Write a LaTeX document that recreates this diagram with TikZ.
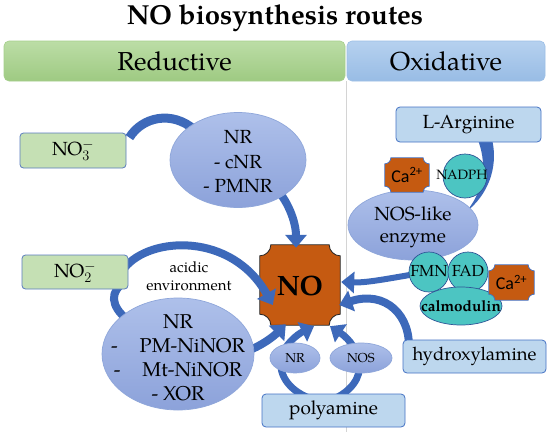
\documentclass[tikz,border=0pt]{standalone}
\usepackage{fontspec}
\setmainfont{TeX Gyre Pagella}
\newfontfamily\cafont{Carlito}
\usetikzlibrary{arrows.meta,shapes.geometric,calc}
\pgfdeclarelayer{bg}\pgfdeclarelayer{mid}\pgfsetlayers{bg,mid,main}
\definecolor{arrowblue}{HTML}{3D69BA}
\definecolor{elltop}{HTML}{AEC0EA}
\definecolor{ellbot}{HTML}{8CA2DA}
\definecolor{ellline}{HTML}{8EA6DA}
\definecolor{gfill}{HTML}{C5E0B4}
\definecolor{gboxline}{HTML}{5A7CBE}
\definecolor{bfill}{HTML}{BDD7EE}
\definecolor{bboxline}{HTML}{4472C4}
\definecolor{gtop}{HTML}{BCDDA6}
\definecolor{gbot}{HTML}{9ECA82}
\definecolor{gline}{HTML}{A6CF8C}
\definecolor{btop}{HTML}{B6D1EF}
\definecolor{bbot}{HTML}{98BCE5}
\definecolor{bline}{HTML}{9CBFE6}
\definecolor{tealc}{HTML}{4CC5C2}
\definecolor{tealline}{HTML}{2F5597}
\definecolor{orangec}{HTML}{C55A11}
\definecolor{divc}{HTML}{D4D4D4}
\newcommand\labfont{\fontsize{19}{24.5}\selectfont}
\newcommand\plaquepath[2]{%
 let \p1=(#1.north west), \p2=(#1.south east) in
 (\x1,\y1-#2) .. controls (\x1+0.552*#2,\y1-#2) and (\x1+#2,\y1-0.552*#2) .. (\x1+#2,\y1)
 -- (\x2-#2,\y1) .. controls (\x2-#2,\y1-0.552*#2) and (\x2-0.552*#2,\y1-#2) .. (\x2,\y1-#2)
 -- (\x2,\y2+#2) .. controls (\x2-0.552*#2,\y2+#2) and (\x2-#2,\y2+0.552*#2) .. (\x2-#2,\y2)
 -- (\x1+#2,\y2) .. controls (\x1+#2,\y2+0.552*#2) and (\x1+0.552*#2,\y2+#2) .. (\x1,\y2+#2) -- cycle}
\begin{document}
\begin{tikzpicture}[x=1pt,y=-1pt,
 ell/.style={ellipse, draw=ellline, line width=0.7pt, top color=elltop, bottom color=ellbot, inner sep=0pt},
 txt/.style={inner sep=0pt, align=center, font=\labfont},
 gbox/.style={rectangle, rounded corners=3.5pt, fill=gfill, draw=gboxline, line width=0.8pt, minimum width=106pt, minimum height=35pt, inner sep=0pt, font=\labfont},
 bbox/.style={rectangle, rounded corners=4pt, fill=bfill, draw=bboxline, line width=0.8pt, minimum height=34pt, inner sep=0pt, font=\labfont},
 bar/.style={rectangle, rounded corners=5pt, minimum height=40pt, inner sep=0pt, line width=0.6pt, font=\fontsize{26}{30}\selectfont},
 teal/.style={circle, fill=tealc, draw=tealline, line width=0.7pt, minimum size=40pt, inner sep=0pt},
 band/.style={draw=arrowblue, line width=8pt},
 bandtip/.style={band, -{Triangle[width=21pt,length=13pt]}},
 plaquebox/.style={rectangle, inner sep=0pt, draw=none},
 caplaque/.style={fill=orangec, draw=bboxline, line width=0.7pt},
 catext/.style={inner sep=0pt, font=\cafont\fontsize{18}{20}\selectfont},
]
\useasboundingbox (0,0) rectangle (550,432);
% ---------- nodes ----------
\node[font=\fontsize{27.5}{32}\selectfont\bfseries, inner sep=0pt] (title) at (275,18) {NO biosynthesis routes};
\node[bar, top color=gtop, bottom color=gbot, draw=gline, minimum width=341pt] (red) at (174.5,61) {Reductive};
\node[bar, top color=btop, bottom color=bbot, draw=bline, minimum width=198pt] (oxi) at (446,61) {Oxidative};
\coordinate (dtop) at (346,81);
\coordinate (dbot) at (346,432);

\node[gbox] (no3) at (73,150.5) {NO$_3^{-}$};
\node[gbox, minimum height=34pt] (no2) at (75,272) {NO$_2^{-}$};

\node[ell, minimum width=136pt, minimum height=95pt] (nr1) at (238,160) {};
\node[txt] (nr1t) at (238,162) {NR\\- cNR\\- PMNR};

\node[ell, minimum width=152pt, minimum height=112pt] (nr2) at (178,354) {};
\node[txt, font=\fontsize{20}{24}\selectfont] (nr2t) at (178,358) {NR\\-\hspace{1.1em}PM-NiNOR\\-\hspace{1.1em}Mt-NiNOR\\- XOR};

\node[txt, font=\fontsize{15}{17.5}\selectfont] (acid) at (189,276) {acidic\\environment};

\node[plaquebox, minimum width=80pt, minimum height=80pt] (no) at (300,285) {};
\node[inner sep=0pt, font=\fontsize{28}{32}\selectfont\bfseries] (not) at (300,286) {NO};

\node[ell, minimum width=50pt, minimum height=30pt] (nrs) at (295,358) {};
\node[txt, font=\fontsize{13}{15}\selectfont] (nrst) at (295,358) {NR};
\node[ell, minimum width=62pt, minimum height=30pt] (noss) at (361,358) {};
\node[txt, font=\fontsize{13}{15}\selectfont] (nosst) at (361,358) {NOS};

\node[bbox, minimum width=143pt, minimum height=33pt] (poly) at (333.5,410.5) {polyamine};
\node[bbox, minimum width=143pt, minimum height=33pt, font=\fontsize{18.5}{22}\selectfont] (hydro) at (474.5,356.5) {hydroxylamine};
\node[bbox, minimum width=145pt, minimum height=35pt] (larg) at (468.5,124.5) {L-Arginine};

\node[ell, minimum width=130pt, minimum height=70pt] (nosl) at (413,225) {};
\node[txt, font=\fontsize{19}{22}\selectfont] (noslt) at (413,227) {NOS-like\\enzyme};

\node[plaquebox, minimum width=44pt, minimum height=34pt] (ca1) at (407,175) {};
\filldraw[caplaque] \plaquepath{ca1}{6pt};
\node[catext] (ca1t) at (407,175) {Ca\textsuperscript{2+}};

\node[teal, minimum size=44pt] (nadph) at (465,176) {};
\node[inner sep=0pt, font=\fontsize{13.5}{15}\selectfont] (nadpht) at (462,175) {NADPH};

\node[teal] (fmn) at (429,272) {};
\node[teal] (fad) at (468,272) {};
\node[inner sep=0pt, font=\fontsize{16}{18}\selectfont] (fmnt) at (429,271) {FMN};
\node[inner sep=0pt, font=\fontsize{16}{18}\selectfont] (fadt) at (468,271) {FAD};
\node[ellipse, fill=tealc, draw=tealline, line width=0.7pt, minimum width=82pt, minimum height=38pt, inner sep=0pt] (calm) at (461,306) {};
\node[inner sep=0pt, font=\fontsize{15.3}{18}\selectfont\bfseries] (calmt) at (461,306) {calmodulin};

\node[plaquebox, minimum width=45pt, minimum height=35pt] (ca2) at (511.5,282.5) {};
\filldraw[caplaque] \plaquepath{ca2}{6pt};
\node[catext] (ca2t) at (511.5,282.5) {Ca\textsuperscript{2+}};

% ---------- background ----------
\begin{pgfonlayer}{bg}
\fill[white] (0,0) rectangle (550,432);
\draw[divc, line width=1pt] (dtop) -- (dbot);
\filldraw[fill=orangec, draw=black!85, line width=0.8pt] \plaquepath{no}{11pt};
\end{pgfonlayer}

% ---------- connectors ----------
\begin{pgfonlayer}{mid}
\draw[band, line width=9pt] ($(no3.north east)+(3,5)$) .. controls (142,117) and (172,110) .. ($(nr1.west)+(25,-30)$);
\draw[bandtip] ($(nr1.center)+(35,25)$) .. controls (288,200) and (296,222) .. ($(no.north)+(-4,3)$);
\draw[bandtip] ($(no2.east)+(-4,-4)$) .. controls (150,236) and (232,232) .. ($(no.west)+(13,20)$);
\draw[band] ($(no2.south east)+(-8,-4)$) .. controls (108,296) and (114,312) .. ($(nr2.north west)+(10,10)$);
\draw[bandtip] ($(nr2.east)+(-10,-2)$) .. controls (262,346) and (274,336) .. ($(no.south west)+(26,-1)$);
\draw[bandtip, line width=7pt] ($(poly.north)+(-20,6)$) .. controls (290,392) and (279,376) .. (281,360) .. controls (283,345) and (298,334) .. ($(no.south)+(14,1)$);
\draw[bandtip, line width=7pt] ($(poly.north)+(-1,6)$) .. controls (350,392) and (362,378) .. (359,362) .. controls (356,345) and (345,336) .. ($(no.south)+(30,1)$);
\draw[bandtip] ($(hydro.west)+(6,-5)$) .. controls (412,315) and (385,290) .. ($(no.east)+(-1,20)$);
\draw[bandtip, line width=6pt] (fmn.center) .. controls (400,276) and (370,283) .. ($(no.east)+(1,-3)$);
\fill[arrowblue] ($(larg.south)+(24,-1)$) .. controls (498,168) and (488,195) .. ($(nosl.center)+(53,-13)$)
  .. controls (482,193) and (488,168) .. ($(larg.south)+(10,-1)$) -- cycle;
\end{pgfonlayer}
\end{tikzpicture}
\end{document}
